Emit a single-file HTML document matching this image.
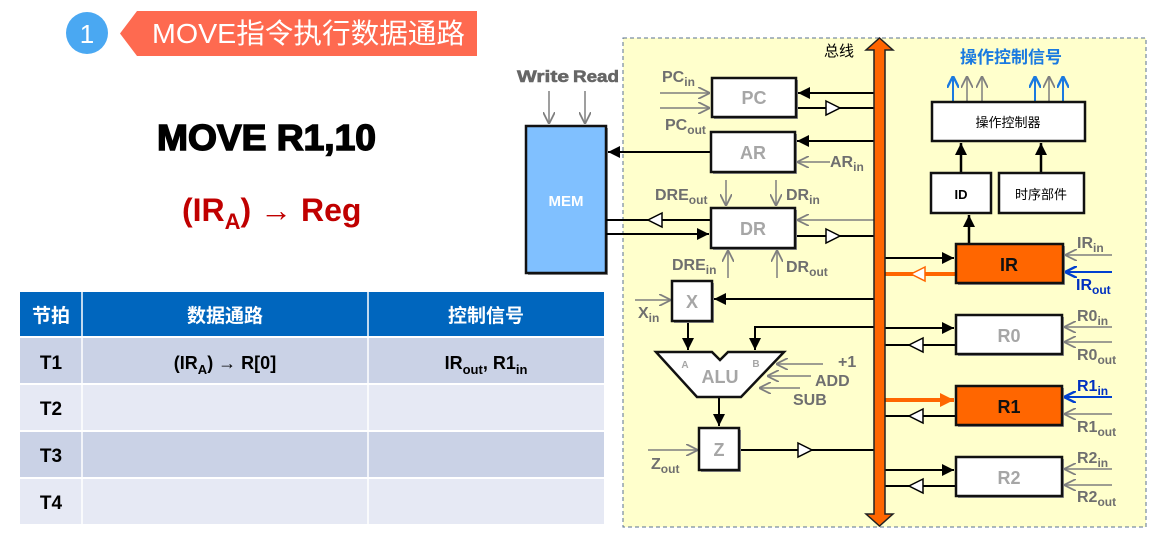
<!DOCTYPE html>
<html><head><meta charset="utf-8">
<style>
html,body{margin:0;padding:0;background:#fff;}
svg{display:block;}
text{font-family:"Liberation Sans","Noto Sans CJK SC",sans-serif;}
</style></head>
<body>
<svg width="1154" height="536" viewBox="0 0 1154 536" xmlns="http://www.w3.org/2000/svg">
<defs>
<marker id="ab" viewBox="0 0 10 10" refX="10" refY="5" markerWidth="12" markerHeight="12" markerUnits="userSpaceOnUse" orient="auto"><path d="M0,0 L10,5 L0,10 z" fill="#000"/></marker>
<marker id="ag" viewBox="0 0 10 10" refX="10" refY="5" markerWidth="12" markerHeight="12" markerUnits="userSpaceOnUse" orient="auto"><path d="M0,0 L10,5 L0,10" fill="none" stroke="#7f7f7f" stroke-width="1.5"/></marker>
<marker id="abl" viewBox="0 0 10 10" refX="10" refY="5" markerWidth="12" markerHeight="12" markerUnits="userSpaceOnUse" orient="auto"><path d="M0,0 L10,5 L0,10" fill="none" stroke="#0040d0" stroke-width="2"/></marker>
<marker id="ablt" viewBox="0 0 10 10" refX="10" refY="5" markerWidth="12" markerHeight="12" markerUnits="userSpaceOnUse" orient="auto"><path d="M0,0 L10,5 L0,10" fill="none" stroke="#1a7ae0" stroke-width="2"/></marker>
<marker id="ao" viewBox="0 0 10 10" refX="10" refY="5" markerWidth="14" markerHeight="14" markerUnits="userSpaceOnUse" orient="auto"><path d="M0,0 L10,5 L0,10 z" fill="#ff6600"/></marker>
</defs>

<!-- header -->
<circle cx="87" cy="33" r="21" fill="#4aa8f2"/>
<text x="87" y="43" font-size="26" fill="#fff" text-anchor="middle">1</text>
<path d="M137,11 L477,11 L477,56 L137,56 L120,33.5 z" fill="#fe6a50"/>
<text x="152" y="43" font-size="28" fill="#fff" textLength="313" lengthAdjust="spacingAndGlyphs">MOVE指令执行数据通路</text>

<text x="157" y="150" font-size="36" font-weight="bold" fill="#000" stroke="#000" stroke-width="1.5" textLength="219" lengthAdjust="spacingAndGlyphs">MOVE R1,10</text>
<text x="182" y="221" font-size="32" font-weight="bold" fill="#c00000">(IR<tspan font-size="22" dy="8">A</tspan><tspan dy="-8">) → Reg</tspan></text>

<!-- table -->
<rect x="20" y="292" width="584" height="44" fill="#0066be"/>
<rect x="20" y="338" width="584" height="45" fill="#cad2e6"/>
<rect x="20" y="385" width="584" height="45" fill="#e6e9f4"/>
<rect x="20" y="432" width="584" height="45" fill="#cad2e6"/>
<rect x="20" y="479" width="584" height="45" fill="#e6e9f4"/>
<line x1="82" y1="292" x2="82" y2="524" stroke="#fff" stroke-width="1.5"/>
<line x1="368" y1="292" x2="368" y2="524" stroke="#fff" stroke-width="1.5"/>
<g font-weight="bold" font-size="19" text-anchor="middle">
<text x="51" y="322" fill="#fff">节拍</text>
<text x="225" y="322" fill="#fff">数据通路</text>
<text x="486" y="322" fill="#fff">控制信号</text>
<text x="51" y="369">T1</text>
<text x="51" y="415">T2</text>
<text x="51" y="462">T3</text>
<text x="51" y="509">T4</text>
<text x="225" y="369" font-size="18">(IR<tspan font-size="13" dy="5">A</tspan><tspan dy="-5">) → R[0]</tspan></text>
<text x="486" y="369" font-size="18">IR<tspan font-size="13" dy="5">out</tspan><tspan dy="-5">, R1</tspan><tspan font-size="13" dy="5">in</tspan></text>
</g>

<!-- dashed panel -->
<rect x="623" y="38" width="523" height="489" fill="#ffffcc" stroke="#5a7090" stroke-width="1" stroke-dasharray="4,3"/>

<!-- MEM -->
<text x="517" y="82" font-size="17" font-weight="bold" fill="#666" stroke="#666" stroke-width="0.6" textLength="52" lengthAdjust="spacingAndGlyphs">Write</text>
<text x="573" y="82" font-size="17" font-weight="bold" fill="#666" stroke="#666" stroke-width="0.6" textLength="46" lengthAdjust="spacingAndGlyphs">Read</text>
<line x1="549" y1="91" x2="549" y2="124" stroke="#7f7f7f" stroke-width="1.5" marker-end="url(#ag)"/>
<line x1="585" y1="91" x2="585" y2="124" stroke="#7f7f7f" stroke-width="1.5" marker-end="url(#ag)"/>
<rect x="528" y="128" width="80" height="147" fill="#999"/>
<rect x="526" y="126" width="80" height="147" fill="#80c0ff" stroke="#111" stroke-width="2.5"/>
<text x="566" y="206" font-size="15" font-weight="bold" fill="#fff" text-anchor="middle">MEM</text>

<g stroke="#000" stroke-width="2" fill="none">
<line x1="874" y1="93" x2="798" y2="93" marker-end="url(#ab)"/>
<line x1="796" y1="108" x2="874" y2="108"/>
<line x1="874" y1="141" x2="797" y2="141" marker-end="url(#ab)"/>
<line x1="710" y1="152" x2="608" y2="152" marker-end="url(#ab)"/>
<line x1="796" y1="236" x2="874" y2="236"/>
<line x1="710" y1="220" x2="606" y2="220"/>
<line x1="606" y1="234" x2="709" y2="234" marker-end="url(#ab)"/>
<line x1="874" y1="299" x2="714" y2="299" marker-end="url(#ab)"/>
<polyline points="874,327 755,327 755,350" marker-end="url(#ab)"/>
<line x1="688" y1="322" x2="688" y2="350" marker-end="url(#ab)"/>
<line x1="719" y1="397" x2="719" y2="426" marker-end="url(#ab)"/>
<line x1="740" y1="450" x2="874" y2="450"/>
<line x1="885" y1="258" x2="954" y2="258" marker-end="url(#ab)"/>
<line x1="885" y1="328" x2="954" y2="328" marker-end="url(#ab)"/>
<line x1="885" y1="345" x2="956" y2="345"/>
<line x1="885" y1="416" x2="956" y2="416"/>
<line x1="885" y1="470" x2="954" y2="470" marker-end="url(#ab)"/>
<line x1="885" y1="486" x2="956" y2="486"/>
<line x1="969" y1="244" x2="969" y2="215" stroke-width="2.5" marker-end="url(#ab)"/>
<line x1="961" y1="173" x2="961" y2="143" stroke-width="2.5" marker-end="url(#ab)"/>
<line x1="1041" y1="173" x2="1041" y2="143" stroke-width="2.5" marker-end="url(#ab)"/>
</g>
<line x1="956" y1="274" x2="885" y2="274" stroke="#ff6600" stroke-width="4"/>
<line x1="885" y1="400" x2="954" y2="400" stroke="#ff6600" stroke-width="4" marker-end="url(#ao)"/>
<g fill="#fff" stroke="#000" stroke-width="1.5">
<path d="M826,101 L840,108 L826,115 z"/>
<path d="M826,229 L840,236 L826,243 z"/>
<path d="M662,213 L648,220 L662,227 z"/>
<path d="M798,443 L812,450 L798,457 z"/>
<path d="M923,338 L909,345 L923,352 z"/>
<path d="M923,409 L909,416 L923,423 z"/>
<path d="M923,479 L909,486 L923,493 z"/>
<path d="M925,267 L911,274 L925,281 z" stroke="#ff6600"/>
</g>

<g stroke="#7f7f7f" stroke-width="1.5">
<line x1="660" y1="93" x2="710" y2="93" marker-end="url(#ag)"/>
<line x1="660" y1="108" x2="710" y2="108" marker-end="url(#ag)"/>
<line x1="830" y1="162" x2="797" y2="162" marker-end="url(#ag)"/>
<line x1="874" y1="220" x2="797" y2="220" marker-end="url(#ag)"/>
<line x1="726" y1="180" x2="726" y2="206" marker-end="url(#ag)"/>
<line x1="776" y1="180" x2="776" y2="206" marker-end="url(#ag)"/>
<line x1="728" y1="278" x2="728" y2="250" marker-end="url(#ag)"/>
<line x1="777" y1="278" x2="777" y2="250" marker-end="url(#ag)"/>
<line x1="635" y1="300" x2="671" y2="300" marker-end="url(#ag)"/>
<line x1="648" y1="450" x2="698" y2="450" marker-end="url(#ag)"/>
<line x1="823" y1="364" x2="776" y2="364" marker-end="url(#ag)"/>
<line x1="811" y1="376" x2="767" y2="376" marker-end="url(#ag)"/>
<line x1="800" y1="388" x2="759" y2="388" marker-end="url(#ag)"/>
<line x1="1112" y1="255" x2="1065" y2="255" marker-end="url(#ag)"/>
<line x1="1112" y1="327" x2="1064" y2="327" marker-end="url(#ag)"/>
<line x1="1112" y1="342" x2="1064" y2="342" marker-end="url(#ag)"/>
<line x1="1112" y1="414" x2="1064" y2="414" marker-end="url(#ag)"/>
<line x1="1112" y1="469" x2="1064" y2="469" marker-end="url(#ag)"/>
<line x1="1112" y1="485" x2="1064" y2="485" marker-end="url(#ag)"/>
<line x1="967" y1="102" x2="967" y2="76" marker-end="url(#ag)"/>
<line x1="982" y1="102" x2="982" y2="76" marker-end="url(#ag)"/>
<line x1="1049" y1="102" x2="1049" y2="76" marker-end="url(#ag)"/>
</g>
<g stroke-width="2">
<line x1="1112" y1="272" x2="1065" y2="272" stroke="#0040d0" marker-end="url(#abl)"/>
<line x1="1112" y1="397" x2="1064" y2="397" stroke="#0040d0" marker-end="url(#abl)"/>
<line x1="953" y1="102" x2="953" y2="76" stroke="#1a7ae0" marker-end="url(#ablt)"/>
<line x1="1035" y1="102" x2="1035" y2="76" stroke="#1a7ae0" marker-end="url(#ablt)"/>
<line x1="1063" y1="102" x2="1063" y2="76" stroke="#1a7ae0" marker-end="url(#ablt)"/>
</g>

<g stroke="#111" stroke-width="2.5">
<rect x="714" y="80" width="84" height="39" fill="#999" stroke="none"/>
<rect x="712" y="78" width="84" height="39" fill="#fff"/>
<rect x="713" y="134" width="84" height="40" fill="#999" stroke="none"/>
<rect x="711" y="132" width="84" height="40" fill="#fff"/>
<rect x="713" y="210" width="84" height="40" fill="#999" stroke="none"/>
<rect x="711" y="208" width="84" height="40" fill="#fff"/>
<rect x="674" y="283" width="40" height="40" fill="#999" stroke="none"/>
<rect x="672" y="281" width="40" height="40" fill="#fff"/>
<rect x="701" y="430" width="40" height="42" fill="#999" stroke="none"/>
<rect x="699" y="428" width="40" height="42" fill="#fff"/>
<path d="M656,352 L712,352 L720,360 L728,352 L784,352 L741,397 L697,397 z" fill="#fff"/>
<rect x="932" y="102" width="153" height="39" fill="#fff"/>
<rect x="931" y="173" width="60" height="40" fill="#fff"/>
<rect x="999" y="173" width="85" height="40" fill="#fff"/>
<rect x="958" y="246" width="107" height="39" fill="#999" stroke="none"/>
<rect x="956" y="244" width="107" height="39" fill="#ff6600"/>
<rect x="958" y="317" width="106" height="39" fill="#999" stroke="none"/>
<rect x="956" y="315" width="106" height="39" fill="#fff"/>
<rect x="958" y="388" width="106" height="39" fill="#999" stroke="none"/>
<rect x="956" y="386" width="106" height="39" fill="#ff6600"/>
<rect x="958" y="459" width="106" height="39" fill="#999" stroke="none"/>
<rect x="956" y="457" width="106" height="39" fill="#fff"/>
</g>

<path d="M874,50 L866,50 L879.5,38 L893,50 L885,50 L885,514 L893,514 L879.5,526 L866,514 L874,514 z" fill="#ff6600" stroke="#222" stroke-width="1.5"/>
<text x="824" y="56" font-size="15" fill="#000">总线</text>

<g font-weight="bold" text-anchor="middle" font-size="18" fill="#a6a6a6">
<text x="754" y="104">PC</text>
<text x="753" y="159">AR</text>
<text x="753" y="235">DR</text>
<text x="692" y="308">X</text>
<text x="719" y="456">Z</text>
<text x="720" y="383">ALU</text>
<text x="1009" y="342">R0</text>
<text x="1009" y="484">R2</text>
<text x="1009" y="271" fill="#111">IR</text>
<text x="1009" y="413" fill="#111">R1</text>
<text x="685" y="368" font-size="10">A</text>
<text x="756" y="367" font-size="10">B</text>
</g>
<text x="1008" y="127" font-size="13" text-anchor="middle">操作控制器</text>
<text x="961" y="199" font-size="13" font-weight="bold" text-anchor="middle">ID</text>
<text x="1041" y="199" font-size="13" text-anchor="middle">时序部件</text>
<text x="1011" y="63" font-size="17" font-weight="bold" fill="#1a7ae0" text-anchor="middle">操作控制信号</text>

<g font-weight="bold" font-size="16" fill="#6f6f6f">
<text x="662" y="82">PC<tspan font-size="12" dy="4">in</tspan></text>
<text x="665" y="130">PC<tspan font-size="12" dy="4">out</tspan></text>
<text x="830" y="167">AR<tspan font-size="12" dy="4">in</tspan></text>
<text x="655" y="200">DRE<tspan font-size="12" dy="4">out</tspan></text>
<text x="786" y="200">DR<tspan font-size="12" dy="4">in</tspan></text>
<text x="672" y="270">DRE<tspan font-size="12" dy="4">in</tspan></text>
<text x="786" y="272">DR<tspan font-size="12" dy="4">out</tspan></text>
<text x="638" y="318">X<tspan font-size="12" dy="4">in</tspan></text>
<text x="651" y="469">Z<tspan font-size="12" dy="4">out</tspan></text>
<text x="838" y="367">+1</text>
<text x="815" y="386">ADD</text>
<text x="793" y="405">SUB</text>
<text x="1077" y="248">IR<tspan font-size="12" dy="4">in</tspan></text>
<text x="1076" y="290" fill="#0030c0">IR<tspan font-size="12" dy="4">out</tspan></text>
<text x="1077" y="321">R0<tspan font-size="12" dy="4">in</tspan></text>
<text x="1077" y="360">R0<tspan font-size="12" dy="4">out</tspan></text>
<text x="1077" y="391" fill="#0030c0">R1<tspan font-size="12" dy="4">in</tspan></text>
<text x="1077" y="432">R1<tspan font-size="12" dy="4">out</tspan></text>
<text x="1077" y="463">R2<tspan font-size="12" dy="4">in</tspan></text>
<text x="1077" y="502">R2<tspan font-size="12" dy="4">out</tspan></text>
</g>
</svg>
</body></html>
